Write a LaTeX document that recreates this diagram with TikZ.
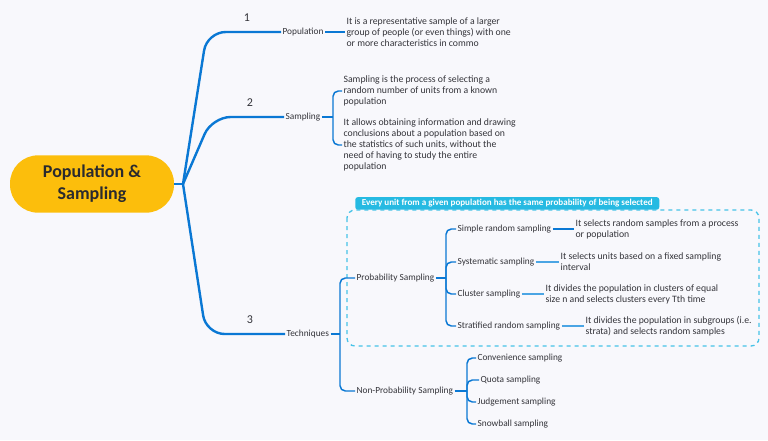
\documentclass[tikz,border=0pt]{standalone}
\usepackage{fontspec}
\setmainfont{Carlito}
\definecolor{bg}{RGB}{248,248,252}
\definecolor{mapblue}{RGB}{10,120,212}
\definecolor{lineblue}{RGB}{75,165,228}
\definecolor{boxcyan}{RGB}{70,195,232}
\definecolor{tabcyan}{RGB}{38,186,226}
\definecolor{rootyellow}{RGB}{252,190,12}
\definecolor{ink}{RGB}{52,52,58}
\begin{document}
\begin{tikzpicture}[x=0.75pt, y=-0.75pt,
  root/.style={fill=rootyellow, rounded corners=21pt, minimum width=123pt, minimum height=43pt,
               align=center, text=ink!80!black, font=\fontsize{13.5}{16.5}\selectfont\bfseries},
  topic/.style={anchor=west, inner sep=1pt, text=ink, font=\fontsize{7}{8.3}\selectfont},
  desc/.style={anchor=west, inner sep=1pt, align=left, text=ink, font=\fontsize{7.3}{8.25}\selectfont},
  num/.style={text=ink, font=\fontsize{9}{10}\selectfont},
  tab/.style={anchor=south west, fill=tabcyan, text=white, rounded corners=2pt, inner sep=1.5pt,
              minimum width=228pt, minimum height=9.5pt, font=\fontsize{6.8}{7}\selectfont\bfseries},
  branch/.style={draw=mapblue, line width=1.8pt, rounded corners=14pt},
  twig/.style={draw=mapblue, line width=1.1pt, rounded corners=4pt},
  leaf/.style={draw=lineblue, line width=1.1pt},
]
  \useasboundingbox (0,0) rectangle (768,440);
  \fill[bg] (0,0) rectangle (768,440);

  % root and main branches
  \node[root] (root) at (92,184) {Population \&\\Sampling};
  \coordinate (hub) at (183,184);
  \node[topic] (pop)  at (281,32)  {Population};
  \node[topic] (samp) at (284,117) {Sampling};
  \node[topic] (tech) at (285,334) {Techniques};
  \node[num] (n1) at (247,18)  {1};
  \node[num] (n2) at (250,103) {2};
  \node[num] (n3) at (250,320) {3};
  \draw[branch] (root.east) -- (hub);
  \draw[branch] (hub) -- (207,32) -- (pop.west);
  \draw[branch] (hub) -- (212,117) -- (samp.west);
  \draw[branch] (hub) -- (206,334) -- (tech.west);

  % population
  \node[desc] (popd) at (345,32) {It is a representative sample of a larger\\
    group of people (or even things) with one\\or more characteristics in commo};
  \draw[twig] (pop.east) -- (popd.west);

  % sampling
  \node[desc] (sd1) at (342,91) {Sampling is the process of selecting a\\
    random number of units from a known\\population};
  \node[desc] (sd2) at (342,145) {It allows obtaining information and drawing\\
    conclusions about a population based on\\the statistics of such units, without the\\
    need of having to study the entire\\population};
  \coordinate (sj) at (333,117);
  \draw[twig] (samp.east) -- (sj);
  \draw[twig] (sd1.west) -| (sj) |- (sd2.west);

  % techniques
  \draw[dashed, boxcyan, line width=1pt, rounded corners=6pt] (347,210) rectangle (759,346);
  \node[tab] (tab) at (355,210) {Every unit from a given population has the same probability of being selected};
  \node[topic] (prob) at (355,278) {Probability Sampling};
  \node[topic] (nonp) at (355,391) {Non-Probability Sampling};
  \coordinate (tj) at (340,334);
  \draw[twig] (tech.east) -- (tj);
  \draw[twig] (prob.west) -| (tj) |- (nonp.west);

  % probability sampling
  \node[topic] (simp)  at (456,229) {Simple random sampling};
  \node[topic] (syst)  at (456,262) {Systematic sampling};
  \node[topic] (clus)  at (456,294) {Cluster sampling};
  \node[topic] (strat) at (456,326) {Stratified random sampling};
  \coordinate (pj) at (446,278);
  \draw[twig] (prob.east) -- (pj);
  \draw[twig] (simp.west) -| (pj) |- (strat.west);
  \draw[twig] (pj) |- (syst.west);
  \draw[twig] (pj) |- (clus.west);
  \node[desc] (simpd)  at (574,229) {It selects random samples from a process\\or population};
  \node[desc] (systd)  at (559,262) {It selects units based on a fixed sampling\\interval};
  \node[desc] (clusd)  at (544,294) {It divides the population in clusters of equal\\size n and selects clusters every Tth time};
  \node[desc] (stratd) at (584,326) {It divides the population in subgroups (i.e.\\strata) and selects random samples};
  \draw[twig, line width=1.5pt] (simp.east) -- (simpd.west);
  \draw[leaf] (syst.east) -- (systd.west);
  \draw[leaf] (clus.east) -- (clusd.west);
  \draw[leaf] (strat.east) -- (stratd.west);

  % non-probability sampling
  \node[topic] (conv)  at (476,358) {Convenience sampling};
  \node[topic] (quota) at (479,380) {Quota sampling};
  \node[topic] (judg)  at (476,402) {Judgement sampling};
  \node[topic] (snow)  at (476,424) {Snowball sampling};
  \coordinate (nj) at (467,391);
  \draw[twig] (nonp.east) -- (nj);
  \draw[twig] (conv.west) -| (nj) |- (snow.west);
  \draw[twig] (nj) |- (quota.west);
  \draw[twig] (nj) |- (judg.west);
\end{tikzpicture}
\end{document}
